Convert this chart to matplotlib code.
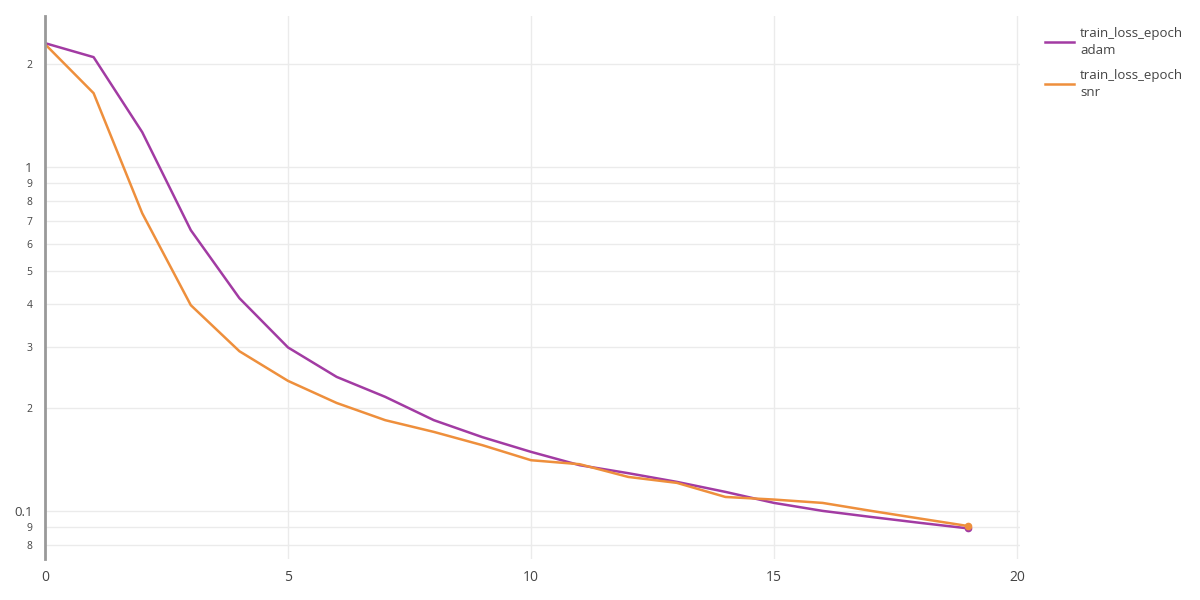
import numpy as np
import matplotlib
matplotlib.use("Agg")
import matplotlib.pyplot as plt
from matplotlib.ticker import FixedLocator, FixedFormatter, NullLocator

plt.rcParams['font.family'] = ['Open Sans', 'DejaVu Sans']

# data
epochs = list(range(20))
adam_loss = [2.30, 2.094, 1.267, 0.657, 0.4166, 0.2995, 0.2459, 0.2151, 0.1840, 0.1642,
             0.1488, 0.1361, 0.1290, 0.1217, 0.1138, 0.1057, 0.1002, 0.0962, 0.0925, 0.0891]
snr_loss = [2.285, 1.645, 0.736, 0.3975, 0.2920, 0.2394, 0.2065, 0.1840, 0.1701, 0.1556,
            0.1407, 0.1370, 0.1258, 0.1209, 0.1100, 0.1081, 0.1057, 0.1002, 0.0952, 0.0905]
series_labels = ["train_loss_epoch\nadam", "train_loss_epoch\nsnr"]
series_colors = ["#a23ba3", "#ee8f3c"]

y_ticks = [0.08, 0.09, 0.1, 0.2, 0.3, 0.4, 0.5, 0.6, 0.7, 0.8, 0.9, 1, 2]
y_tick_labels = ["8", "9", "0.1", "2", "3", "4", "5", "6", "7", "8", "9", "1", "2"]
x_ticks = [0, 5, 10, 15, 20]

fig = plt.figure(figsize=(12, 6), dpi=100)
ax = fig.add_axes([0.0375, 0.068, 0.8125, 0.905])

for vals, lab, col in zip([adam_loss, snr_loss], series_labels, series_colors):
    ax.plot(epochs, vals, color=col, lw=1.8, label=lab, zorder=3)
    ax.plot(epochs[-1:], vals[-1:], 'o', color=col, ms=4.5, zorder=4)

ax.set_yscale('log')
ax.set_xlim(0, 20.06)
ax.set_ylim(0.0725, 2.755)

ax.yaxis.set_major_locator(FixedLocator(y_ticks))
ax.yaxis.set_major_formatter(FixedFormatter(y_tick_labels))
ax.yaxis.set_minor_locator(NullLocator())
ax.set_xticks(x_ticks)
ax.set_xticklabels([str(t) for t in x_ticks])

ax.grid(True, color="#ebebeb", lw=1, zorder=0)
for s in ['top', 'right', 'bottom']:
    ax.spines[s].set_visible(False)
ax.spines['left'].set_color("#999999")
ax.spines['left'].set_linewidth(2)
ax.spines['left'].set_zorder(5)

ax.tick_params(axis='both', length=0, colors="#444444")
ax.tick_params(axis='x', labelsize=10, pad=8)
ax.tick_params(axis='y', pad=9)
for t, v in zip(ax.get_yticklabels(), y_ticks):
    t.set_fontsize(9.5 if v in (0.1, 1) else 7.5)

leg = fig.legend(*ax.get_legend_handles_labels(), loc='upper left',
                 bbox_to_anchor=(1045 / 1200, 1 - 27 / 600), frameon=False,
                 fontsize=9.5, handlelength=2.2, handletextpad=0.45,
                 labelspacing=0.95, labelcolor="#444444",
                 borderaxespad=0, borderpad=0)
for t in leg.get_texts():
    t.set_linespacing(1.35)

fig.savefig("out.png", dpi=100)
